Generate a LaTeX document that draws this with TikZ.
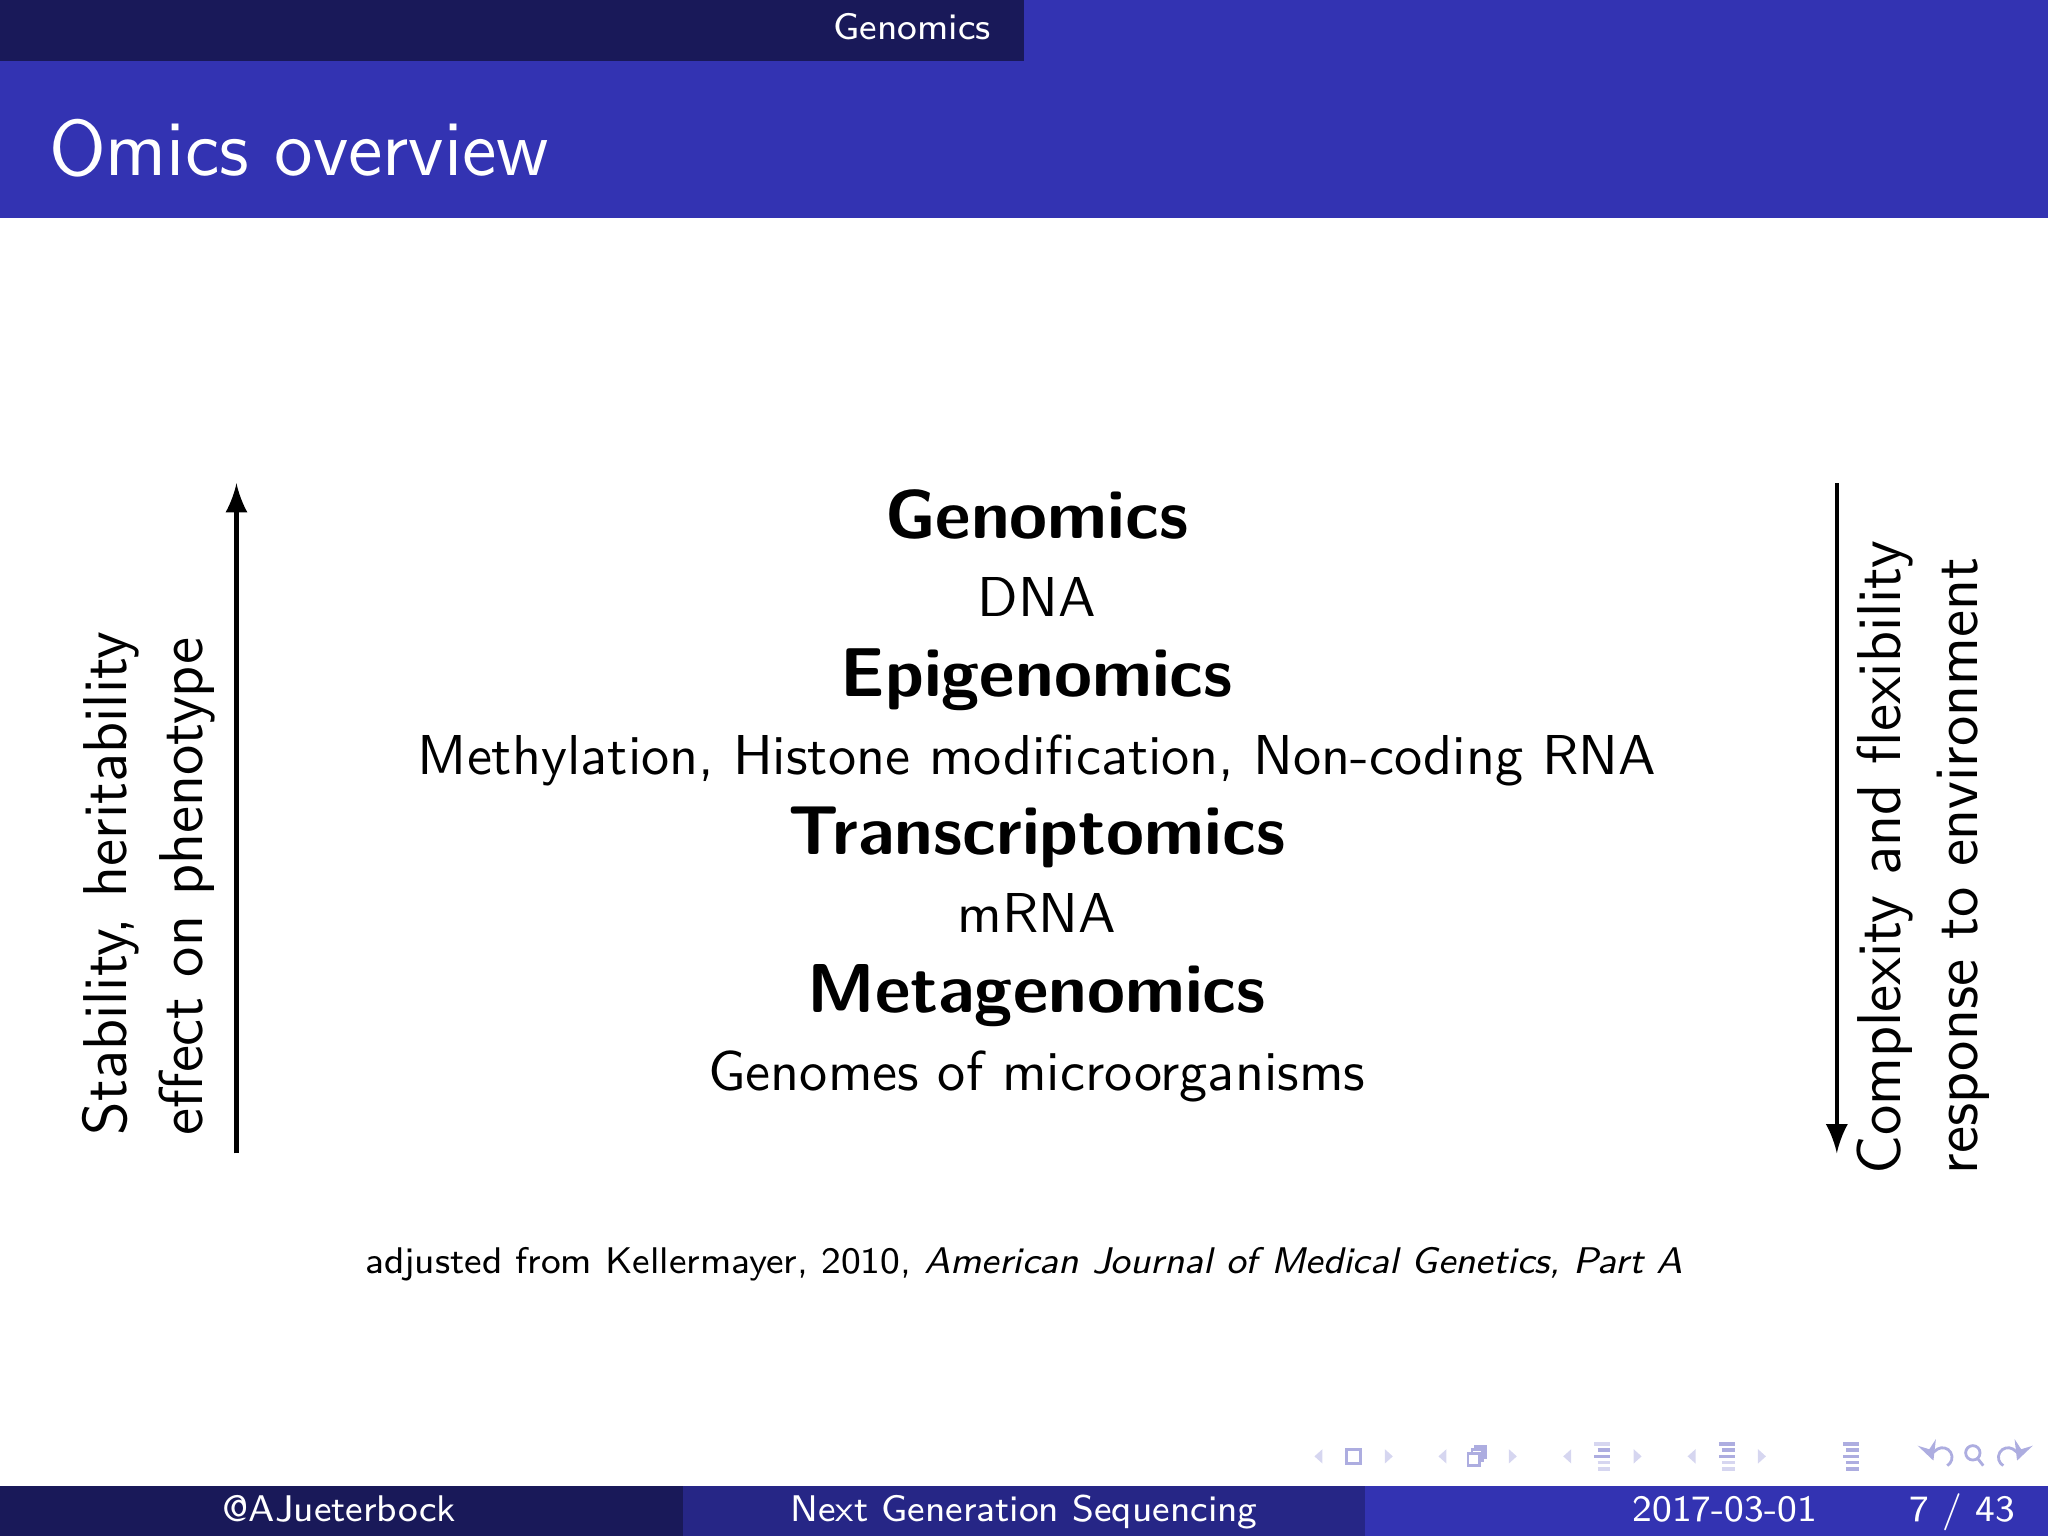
\documentclass[tikz,border=0pt]{standalone}
\usepackage{tikz}
\usetikzlibrary{arrows}
\renewcommand{\familydefault}{\sfdefault}

\definecolor{structblue}{rgb}{0.2,0.2,0.7}
\colorlet{darkblue}{structblue!50!black}
\colorlet{midblue}{structblue!75!black}
\colorlet{navfg}{structblue!40!white}
\colorlet{navlight}{structblue!20!white}

\begin{document}
\begin{tikzpicture}[
    barlabel/.style={text=white, font=\fontsize{6.6}{8}\selectfont, inner sep=0pt},
    omic/.style={font=\fontsize{12.3}{14}\selectfont\bfseries, inner sep=0pt, anchor=base},
    molecule/.style={font=\fontsize{10}{12}\selectfont, inner sep=0pt, anchor=base},
    sidelabel/.style={rotate=90, align=left, anchor=west, font=\fontsize{11}{13.6}\selectfont, inner sep=0pt},
    axis/.style={thick, -latex},
    navtri/.style={fill=navlight, draw=none},
    navicon/.style={draw=navfg, line width=0.5pt},
    navbar/.style={line width=0.6pt}]
    \useasboundingbox (0,0) rectangle (12.8,9.6);

    % Headline and frame title
    \fill[darkblue] (0,9.216) rectangle (6.4,9.6);
    \fill[structblue] (6.4,9.216) rectangle (12.8,9.6);
    \fill[structblue] (0,8.237) rectangle (12.8,9.216);
    \node[barlabel, anchor=base east] (section) at (6.2,9.355) {Genomics};
    \node[text=white, font=\fontsize{14}{17}\selectfont, inner sep=0pt, anchor=base west] (title) at (0.3,8.506) {Omics overview};

    % Omics levels
    \foreach \omic/\mol [count=\i] in {Genomics/DNA, Epigenomics/{Methylation, Histone modification, Non-coding RNA}, Transcriptomics/mRNA, Metagenomics/{Genomes of microorganisms}} {
        \node[omic] (omic\i) at (6.48, {6.237-(\i-1)*0.988}) {\omic};
        \node[molecule] (mol\i) at (6.48, {5.747-(\i-1)*0.988}) {\mol};
    }

    % Axes
    \coordinate (lowL) at (1.478,2.392);
    \coordinate (topL) at (1.478,6.58);
    \coordinate (topR) at (11.48,6.58);
    \coordinate (lowR) at (11.48,2.392);
    \draw[axis] (lowL) -- (topL);
    \draw[axis] (topR) -- (lowR);
    \node[sidelabel] (stable) at (0.93,2.498) {Stability, heritability\\effect on phenotype};
    \node[sidelabel] (flexible) at (12.02,2.253) {Complexity and flexibility\\response to environment};

    % Reference
    \node[font=\fontsize{6.6}{8}\selectfont, inner sep=0pt, anchor=base] (ref) at (6.4,1.641)
        {adjusted from Kellermayer, 2010, \textit{American Journal of Medical Genetics, Part A}};

    % Navigation symbols
    \foreach \x in {8.46,9.235,10.015,10.792} {
        \fill[navtri] (\x-0.245,0.498) -- ++(0.05,0.045) -- ++(0,-0.09) -- cycle;
        \fill[navtri] (\x+0.245,0.498) -- ++(-0.05,0.045) -- ++(0,-0.09) -- cycle;
    }
    \draw[navicon] (8.415,0.455) rectangle (8.505,0.54);
    \draw[navicon, fill=white] (9.22,0.49) rectangle (9.285,0.56);
    \draw[navicon, fill=white] (9.2,0.47) rectangle (9.265,0.54);
    \draw[navicon, fill=white] (9.175,0.44) rectangle (9.245,0.515);
    % section / subsection icons
    \foreach \x/\a/\b/\c/\d/\e in {10.015/navlight/navfg/navfg/navlight/navlight,
                                  10.792/navfg/navfg/navfg/navlight/navlight,
                                  11.567/navfg/navfg/navfg/navfg/navfg} {
        \draw[navbar, \a] (\x-0.05,0.576) -- (\x+0.05,0.576);
        \draw[navbar, \b] (\x-0.03,0.537) -- (\x+0.05,0.537);
        \draw[navbar, \c] (\x-0.05,0.498) -- (\x+0.05,0.498);
        \draw[navbar, \d] (\x-0.03,0.459) -- (\x+0.05,0.459);
        \draw[navbar, \e] (\x-0.03,0.42) -- (\x+0.05,0.42);
    }
    \draw[navicon, ->, >=stealth] (12.17,0.44) arc (-60:200:0.06);
    \draw[navicon] (12.33,0.52) circle (0.045) (12.36,0.485) -- (12.395,0.44);
    \draw[navicon, ->, >=stealth] (12.52,0.44) arc (240:-20:0.06);

    % Footline
    \fill[darkblue] (0,0) rectangle (4.267,0.31);
    \fill[midblue] (4.267,0) rectangle (8.533,0.31);
    \fill[structblue] (8.533,0) rectangle (12.8,0.31);
    \node[barlabel, anchor=base] (author) at (2.12,0.09) {@AJueterbock};
    \node[barlabel, anchor=base] (talk) at (6.4,0.09) {Next Generation Sequencing};
    \node[barlabel, anchor=base] (date) at (10.78,0.09) {2017-03-01};
    \node[barlabel, anchor=base east] (page) at (12.6,0.09) {7 / 43};
\end{tikzpicture}
\end{document}
